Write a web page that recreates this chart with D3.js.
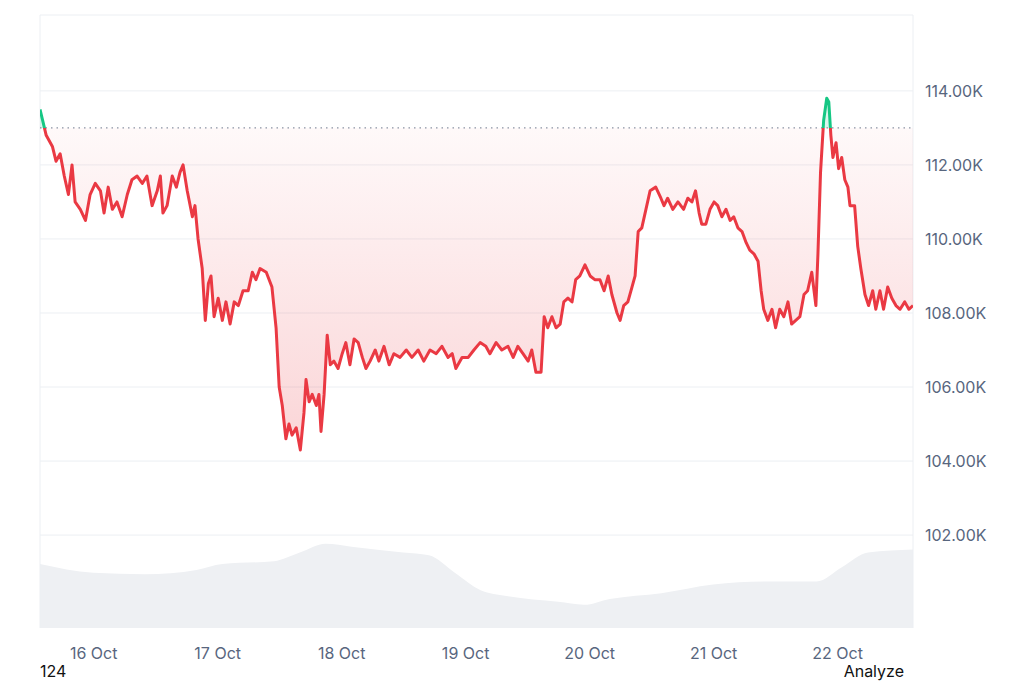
<!DOCTYPE html>
<html><head><meta charset="utf-8">
<script src="https://cdn.jsdelivr.net/npm/d3@7"></script>
<style>body{margin:0;background:#fff;font-family:Inter,"Noto Sans",sans-serif}</style>
</head><body><svg id="c" width="1024" height="683"></svg>
<script>
// hours after 16 Oct 00:00, price in K
var hours = [-10.3,-9.1,-7.9,-7.2,-6.4,-5.6,-4.8,-4.1,-3.5,-2.5,-1.5,-0.6,0.4,1.4,2.1,2.9,3.7,4.6,5.6,6.6,7.5,8.5,9.5,10.4,11.4,12.4,13.0,13.5,14.3,15.3,16.1,16.8,17.4,18.2,19.2,19.7,20.3,21.1,21.7,22.3,22.8,23.4,24.2,25.0,25.7,26.5,27.3,28.1,29.0,30.0,30.8,31.5,32.3,33.5,34.6,35.4,36.0,36.6,37.3,37.9,38.5,39.3,40.1,40.8,41.2,41.8,42.4,43.2,43.7,44.1,44.7,45.3,45.9,46.6,47.4,48.2,48.9,49.7,50.5,51.3,52.1,52.8,53.6,54.6,55.3,56.3,57.3,58.2,59.4,60.6,61.7,62.9,64.0,65.2,66.4,67.5,68.7,69.5,70.2,71.4,72.6,73.7,74.9,76.0,76.8,78.0,79.1,80.3,81.3,82.2,83.2,84.2,84.9,85.7,86.7,87.3,88.0,88.8,89.6,90.4,91.1,91.9,92.7,93.4,94.2,95.2,96.2,97.1,98.1,98.9,99.7,100.4,101.4,102.0,102.7,103.5,104.3,104.9,105.5,106.2,107.0,107.8,108.9,109.9,110.5,111.2,112.2,113.2,114.3,115.1,115.9,116.6,117.3,117.8,118.6,119.4,120.2,120.9,121.7,122.5,123.3,124.0,124.8,125.6,126.4,127.1,127.9,128.7,129.3,129.8,130.6,131.4,132.1,132.9,133.7,134.5,135.2,136.0,136.8,137.6,138.3,139.1,139.9,140.3,140.8,141.4,142.0,142.4,142.8,143.2,143.8,144.3,144.9,145.5,146.1,146.5,147.4,148.0,148.6,149.4,150.1,150.9,151.5,152.3,153.0,153.8,154.6,155.4,156.2,157.1,157.9,158.7];
var prices = [113.5,112.8,112.5,112.1,112.3,111.7,111.2,112.0,111.0,110.8,110.5,111.2,111.5,111.3,110.7,111.4,110.8,111.0,110.6,111.2,111.6,111.7,111.5,111.7,110.9,111.3,111.7,110.7,110.9,111.7,111.4,111.8,112.0,111.3,110.6,110.9,110.0,109.2,107.8,108.8,109.0,107.9,108.4,107.8,108.3,107.7,108.3,108.2,108.6,108.6,109.1,108.9,109.2,109.1,108.7,107.6,106.0,105.5,104.6,105.0,104.7,104.9,104.3,105.3,106.2,105.6,105.8,105.5,105.8,104.8,105.8,107.4,106.6,106.7,106.5,106.9,107.2,106.6,107.3,107.2,106.8,106.5,106.7,107.0,106.7,107.1,106.6,106.9,106.8,107.0,106.8,107.0,106.7,107.0,106.9,107.1,106.8,106.9,106.5,106.8,106.8,107.0,107.2,107.1,106.9,107.2,107.0,107.1,106.8,107.1,106.9,106.7,107.0,106.4,106.4,107.9,107.6,107.9,107.6,107.7,108.3,108.4,108.3,108.9,109.0,109.3,109.0,108.9,108.9,108.6,109.0,108.5,108.0,107.8,108.2,108.3,108.7,109.0,110.2,110.3,110.8,111.3,111.4,111.1,110.9,111.1,110.8,111.0,110.8,111.1,111.0,111.3,110.7,110.4,110.4,110.8,111.0,110.9,110.6,110.8,110.5,110.6,110.3,110.2,109.9,109.7,109.6,109.4,108.6,108.1,107.8,108.1,107.6,108.1,107.9,108.3,107.7,107.8,107.9,108.5,108.6,109.1,108.2,109.6,111.8,113.2,113.8,113.7,112.8,112.2,112.6,111.9,112.2,111.6,111.4,110.9,110.9,109.8,109.2,108.5,108.2,108.6,108.1,108.6,108.1,108.7,108.4,108.2,108.1,108.3,108.1,108.2];
var baseline = 113.0;
var volHours = [-10.3,0,10,20,25,35,40,45,50,60,65,70,75,80,90,95,100,110,120,130,140,145,150,158.7];
var volumes = [2.2,1.9,1.85,2.0,2.2,2.3,2.6,2.9,2.8,2.6,2.5,1.9,1.3,1.1,0.9,0.8,1.0,1.2,1.5,1.6,1.6,2.1,2.6,2.7];
var yTicks = [102,104,106,108,110,112,114];

var t0 = new Date(2025, 9, 16).getTime();
function toDate(h){ return new Date(t0 + h*3600000); }
var data = hours.map((h,i) => ({d: toDate(h), v: prices[i]}));
var vdata = volHours.map((h,i) => ({d: toDate(h), v: volumes[i]}));

var L = 40, R = 913, T = 15, B = 628;
var svg = d3.select("#c");
var x = d3.scaleTime().domain([toDate(-10.3), toDate(158.7)]).range([L, R]);
var y = d3.scaleLinear().domain([99.49, 116.05]).range([B, T]);
var yv = d3.scaleLinear().domain([0, 3.2]).range([B, B-93]);

// volume
svg.append("path").datum(vdata).attr("fill", "#eef0f3")
  .attr("d", d3.area().curve(d3.curveMonotoneX).x(d => x(d.d)).y0(B).y1(d => yv(d.v)));

// grid + frame
svg.selectAll(".g").data(yTicks).enter().append("line")
  .attr("x1", L).attr("x2", R).attr("y1", d => y(d)).attr("y2", d => y(d))
  .attr("stroke", "#eceff3");
svg.append("line").attr("x1", L).attr("x2", R).attr("y1", T).attr("y2", T).attr("stroke", "#eceff3");
svg.append("line").attr("x1", L).attr("x2", L).attr("y1", T).attr("y2", B).attr("stroke", "#eceff3");
svg.append("line").attr("x1", R).attr("x2", R).attr("y1", T).attr("y2", B).attr("stroke", "#eceff3");

var defs = svg.append("defs");
var by = y(baseline);
defs.append("clipPath").attr("id", "above").append("rect").attr("x", L).attr("y", T).attr("width", R-L).attr("height", by-T);
defs.append("clipPath").attr("id", "below").append("rect").attr("x", L).attr("y", by).attr("width", R-L).attr("height", B-by);
var gr = defs.append("linearGradient").attr("id", "rg").attr("gradientUnits", "userSpaceOnUse")
  .attr("x1", 0).attr("x2", 0).attr("y1", by).attr("y2", y(104));
gr.append("stop").attr("offset", 0).attr("stop-color", "#ea3943").attr("stop-opacity", 0.03);
gr.append("stop").attr("offset", 1).attr("stop-color", "#ea3943").attr("stop-opacity", 0.22);

var area = d3.area().x(d => x(d.d)).y0(by).y1(d => y(d.v));
svg.append("path").datum(data).attr("d", area).attr("fill", "url(#rg)").attr("clip-path", "url(#below)");
svg.append("path").datum(data).attr("d", area).attr("fill", "#16c784").attr("opacity", 0.15).attr("clip-path", "url(#above)");

svg.append("line").attr("x1", L).attr("x2", R).attr("y1", by).attr("y2", by)
  .attr("stroke", "#8a93a3").attr("stroke-dasharray", "1.5,4").attr("stroke-width", 1.2);

var line = d3.line().x(d => x(d.d)).y(d => y(d.v));
svg.append("path").datum(data).attr("d", line).attr("fill", "none").attr("stroke", "#ea3943")
  .attr("stroke-width", 3).attr("stroke-linejoin", "round").attr("clip-path", "url(#below)");
svg.append("path").datum(data).attr("d", line).attr("fill", "none").attr("stroke", "#16c784")
  .attr("stroke-width", 3).attr("stroke-linejoin", "round").attr("clip-path", "url(#above)");

// axes
var ya = svg.append("g").attr("transform", `translate(${R},0)`)
  .call(d3.axisRight(y).tickValues(yTicks).tickSize(0).tickPadding(12).tickFormat(d => d.toFixed(2) + "K"));
ya.select(".domain").remove();
ya.selectAll("text").attr("fill", "#58667e").attr("font-size", 16).attr("font-family", "Inter,sans-serif");

var days = d3.range(16, 23).map(d => new Date(2025, 9, d));
var xa = svg.append("g").attr("transform", `translate(0,${B})`)
  .call(d3.axisBottom(x).tickValues(days).tickSize(0).tickPadding(20).tickFormat(d3.timeFormat("%-d Oct")));
xa.select(".domain").remove();
xa.selectAll("text").attr("fill", "#58667e").attr("font-size", 16).attr("font-family", "Inter,sans-serif");

svg.append("text").attr("x", 40).attr("y", 677).attr("font-size", 16).attr("fill", "#111").text("124");
svg.append("text").attr("x", 904).attr("y", 677).attr("text-anchor", "end").attr("font-size", 16).attr("fill", "#111").text("Analyze");
</script></body></html>
